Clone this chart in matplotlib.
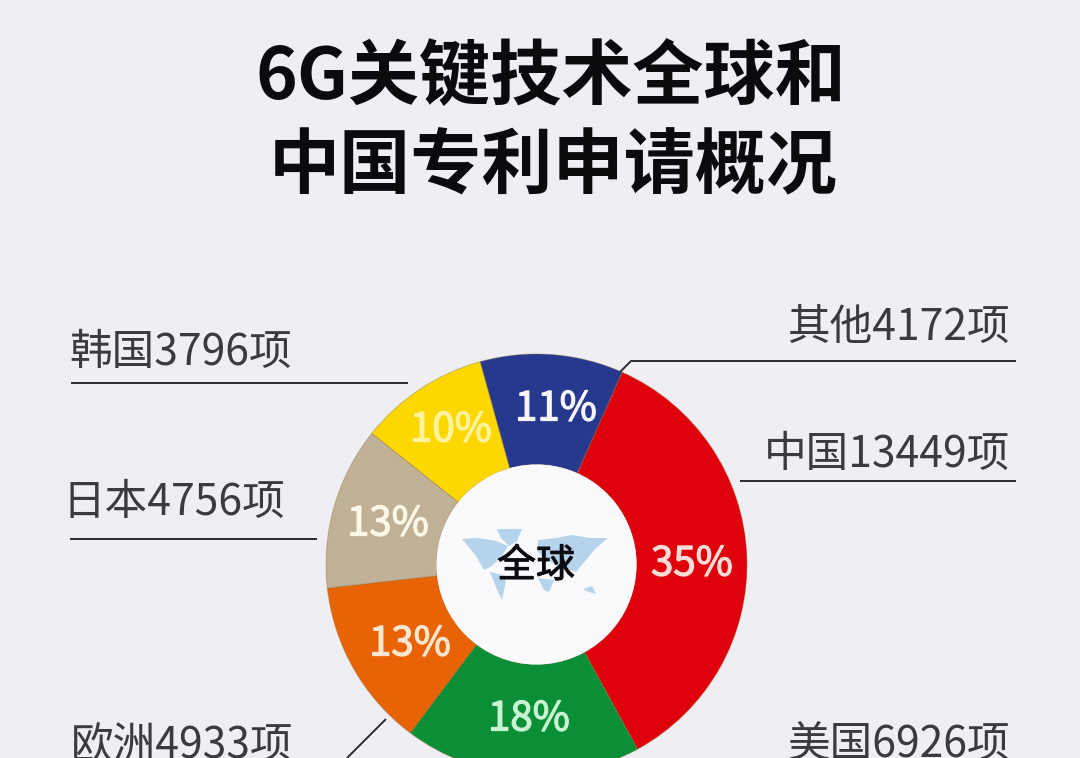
import matplotlib
matplotlib.use("Agg")
import matplotlib.pyplot as plt
from matplotlib.patches import Circle, Polygon
import matplotlib.patheffects as pe

plt.rcParams['font.family'] = ['Noto Sans CJK SC', 'DejaVu Sans']

regions = ['中国', '美国', '欧洲', '日本', '韩国', '其他']
patents = [13449, 6926, 4933, 4756, 3796, 4172]
percents = ['35%', '18%', '13%', '13%', '10%', '11%']
colors = ['#e0000b', '#0b8f36', '#e86305', '#bfb096', '#fcd800', '#27398f']
title_lines = ['6G关键技术全球和', '中国专利申请概况']
center_label = '全球'

W, H = 1080, 758
BG = '#eeeef3'
fig = plt.figure(figsize=(W / 100, H / 100), dpi=100, facecolor=BG)
ax = fig.add_axes([0, 0, 1, 1])
ax.set_facecolor(BG)


def Y(py):
    return H - py


cx, cy, R, r = 536.5, 564.5, 210.5, 100
wedges, _ = ax.pie(
    patents, colors=colors, startangle=90 - 24, counterclock=False,
    center=(cx, Y(cy)), radius=R, frame=True,
    wedgeprops=dict(width=R - r, linewidth=0.8, edgecolor='#8a6a3055', clip_on=True),
)
ax.set_xlim(0, W)
ax.set_ylim(0, H)
ax.set_aspect('auto')
ax.axis('off')

ax.add_patch(Circle((cx, Y(cy)), r, fc='#fafafd', ec='none', zorder=3))

# decorative world map behind the centre label
land = [
    [(462, 539), (478, 538), (496, 541), (508, 546), (502, 556), (492, 566), (484, 570), (476, 556), (468, 546)],
    [(497, 529), (522, 529), (517, 541), (509, 546), (501, 538)],
    [(490, 572), (506, 576), (505, 586), (502, 600), (498, 592)],
    [(538, 540), (556, 538), (572, 535), (590, 538), (608, 538), (596, 548), (586, 560), (576, 572), (560, 566), (546, 560), (538, 552)],
    [(538, 578), (554, 580), (549, 592), (544, 590)],
    [(583, 589), (592, 586), (596, 594), (586, 591)],
]
for pts in land:
    ax.add_patch(Polygon([(x, Y(y)) for x, y in pts], closed=True, fc='#b5d3ec', ec='none', zorder=4))

pct_pos = [(692, 564), (529, 719), (410, 644), (388, 524), (451, 430), (556, 409)]
pct_col = ['#fbdcd6', '#c8f3d3', '#fde6cf', '#fdf8e6', '#fff3a0', '#f4f6fb']
for (x, y), t, c in zip(pct_pos, percents, pct_col):
    ax.text(x, Y(y), t, color=c, fontsize=29, ha='center', va='center', zorder=5,
            path_effects=[pe.withStroke(linewidth=0.9, foreground=c)])

ax.text(536, Y(566), center_label, color='#0c0c10', fontsize=28, ha='center', va='center', zorder=6,
        path_effects=[pe.withStroke(linewidth=0.7, foreground='#0c0c10')])

for t, x, y in zip(title_lines, [550.5, 553.5], [78, 167]):
    ax.text(x, Y(y), t, color='#0b0b0e', fontsize=51.2, fontweight='bold',
            ha='center', va='center', zorder=6)

label_pos = [(1010, 455, 'right'), (1010, 746, 'right'), (71, 746, 'left'),
             (62, 503, 'left'), (69, 353, 'left'), (1010, 329, 'right')]
for (x, y, ha), name, n in zip(label_pos, regions, patents):
    ax.text(x, Y(y), f'{name}{n}项', color='#3a3a40', fontsize=30.7, ha=ha, va='center', zorder=6)

leaders = [
    [(740, 481), (1016, 481)],
    [(620, 372), (631, 361), (1016, 361)],
    [(71, 383), (408, 383)],
    [(70, 539), (317, 539)],
    [(386, 719), (347, 758)],
]
for seg in leaders:
    ax.plot([p[0] for p in seg], [Y(p[1]) for p in seg], color='#2c2c30', lw=1.4, zorder=2,
            solid_capstyle='butt')

fig.savefig('out.png', dpi=100, facecolor=BG)
